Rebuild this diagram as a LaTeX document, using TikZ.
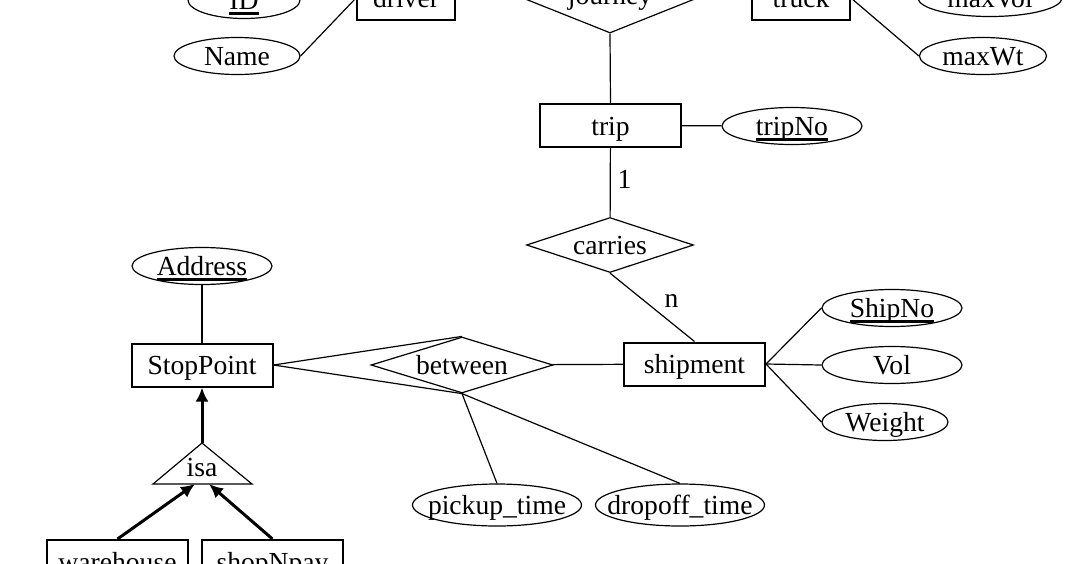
\documentclass[tikz,border=0pt]{standalone}
\usepackage{fontspec}
\setmainfont{Liberation Serif}
\usetikzlibrary{shapes.geometric,arrows.meta}
\newcommand{\KEY}[1]{\setbox0\hbox{#1}\rlap{\rule[-2.6pt]{\wd0}{1.5pt}}\box0}

\begin{document}
\begin{tikzpicture}[x=0.5pt,y=-0.5pt,
  font=\fontsize{13.8}{16}\selectfont,
  every node/.append style={text height=11pt,text depth=1.5pt},
  entity/.style={draw,line width=1pt,minimum width=70.5pt,minimum height=21.5pt,inner sep=0pt},
  attrib/.style={draw,ellipse,line width=0.6pt,minimum width=#1,minimum height=18.5pt,inner xsep=-10pt,inner ysep=0pt},
  rel/.style={draw,diamond,aspect=3,inner sep=0pt,line width=0.6pt},
  link/.style={line width=0.6pt},
  isarrow/.style={line width=1.5pt,-{Latex[length=7pt,width=6.5pt]}}]

  \useasboundingbox (0,0) rectangle (1072,563);
  \clip (0,0) rectangle (1072,563);

  % top row
  \node[attrib=56pt] (id) at (244,0) {\KEY{ID}};
  \node[attrib=63pt] (name) at (237,56) {Name};
  \node[entity,minimum width=49pt] (driver) at (406,-2) {driver};
  \node[rel,minimum width=95pt,minimum height=38pt] (journey) at (610,-5) {journey};
  \node[entity,minimum width=49pt] (truck) at (801,-2) {truck};
  \node[attrib=72pt] (maxvol) at (990,-2) {maxVol};
  \node[attrib=63.5pt] (maxwt) at (983,56) {maxWt};

  \draw[link] (name.east) -- (driver.west); %% Name-driver
  \draw[link] (truck.east) -- (maxwt.west); %% truck-maxWt

  % trip / carries / shipment
  \node[entity] (trip) at (610.5,125.5) {trip};
  \node[attrib=70pt] (tripno) at (792,126) {\KEY{tripNo}};
  \node[rel,minimum width=83.5pt,minimum height=27.5pt] (carries) at (610,245) {carries};
  \node[entity] (shipment) at (694.5,364) {shipment};
  \node[attrib=70pt] (shipno) at (892,308) {\KEY{ShipNo}};
  \node[attrib=70pt] (vol) at (892,365) {Vol};
  \node[attrib=63pt] (weight) at (885,422) {Weight};

  \draw[link] (journey.south) -- (trip.north); %% journey-trip
  \draw[link] (trip) -- (tripno);
  \draw[link] (trip) -- node[pos=0.45,right]{1} (carries); %% trip-carries
  \draw[link] (carries.south) -- node[pos=0.37,right=8pt]{n} (shipment.north); %% carries-shipment
  \draw[link] (shipment.east) -- (shipno.west);
  \draw[link] (shipment.east) -- (vol.west);
  \draw[link] (shipment.east) -- (weight.west);

  % stop points
  \node[attrib=70pt] (address) at (202,266) {\KEY{Address}};
  \node[entity] (stop) at (202,365) {StopPoint};
  \node[rel,minimum width=91pt,minimum height=28pt] (between) at (462,365) {between};
  \node[attrib=84.5pt,minimum height=21pt] (pickup) at (497,505) {pickup\_time};
  \node[attrib=84.5pt,minimum height=21pt] (dropoff) at (680,505) {dropoff\_time};

  \draw[link] (address) -- (stop);
  \draw[link] (stop.east) -- (between.north); %% from
  \draw[link] (stop.east) -- (between.south); %% to
  \draw[link] (between) -- (shipment);
  \draw[link] (between.south) -- (pickup.north);
  \draw[link] (between.south) -- (dropoff.north);

  % isa
  \coordinate (isatip) at (202,443);
  \coordinate (isaleft) at (153,484);
  \coordinate (isaright) at (252,484);
  \coordinate (isain1) at (195,484);
  \coordinate (isain2) at (209,484);
  \draw[link] (isaleft) -- (isatip) -- (isaright) -- cycle;
  \node (isa) at (202,467) {isa};
  \node[entity] (warehouse) at (117.5,561.5) {warehouse};
  \node[entity] (shopnpay) at (272.5,561.5) {shopNpay};

  \draw[isarrow] (isatip) -- (stop.south);
  \draw[isarrow] (warehouse.north) -- (isain1);
  \draw[isarrow] (shopnpay.north) -- (isain2);
\end{tikzpicture}
\end{document}
